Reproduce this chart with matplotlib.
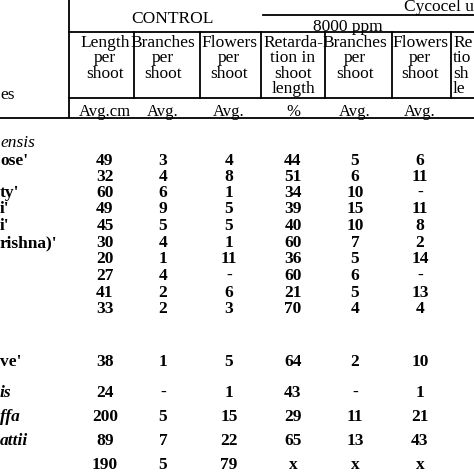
import matplotlib.pyplot as plt

# Table contents (cropped view of a larger table)
row_labels = ["ose'", "", "ty'", "i'", "i'", "rishna)'", "", "", "", "",
              "ve'", "is", "ffa", "attii", ""]
italic_rows = [11, 12, 13]
length_ctrl = ["49", "32", "60", "49", "45", "30", "20", "27", "41", "33", "38", "24", "200", "89", "190"]
branch_ctrl = ["3", "4", "6", "9", "5", "4", "1", "4", "2", "2", "1", "-", "5", "7", "5"]
flower_ctrl = ["4", "8", "1", "5", "5", "1", "11", "-", "6", "3", "5", "1", "15", "22", "79"]
retard_8000 = ["44", "51", "34", "39", "40", "60", "36", "60", "21", "70", "64", "43", "29", "65", "x"]
branch_8000 = ["5", "6", "10", "15", "10", "7", "5", "6", "5", "4", "2", "-", "11", "13", "x"]
flower_8000 = ["6", "11", "-", "11", "8", "2", "14", "-", "13", "4", "10", "1", "21", "43", "x"]

headers = ["Length\nper\nshoot", "Branches\nper\nshoot", "Flowers\nper\nshoot",
           "Retarda-\ntion in\nshoot\nlength", "Branches\nper\nshoot", "Flowers\nper\nshoot", "Re\ntio\nsh\nle"]
units = ["Avg.cm", "Avg.", "Avg.", "%", "Avg.", "Avg.", ""]

row_y = [161, 177, 193, 209, 226, 243, 259, 276, 293, 309, 362, 393, 417, 441, 465]
col_x = [105, 163, 229, 293, 355, 420]
col_lines = [69, 134, 200, 261, 325, 392, 451]

plt.rcParams['font.family'] = ['Liberation Serif', 'DejaVu Serif']
fig = plt.figure(figsize=(4.74, 4.74), dpi=100)
ax = fig.add_axes([0, 0, 1, 1])
ax.set_xlim(0, 474)
ax.set_ylim(474, 0)
ax.axis('off')

fs = 12.5
lw = 1.3
ax.plot([69, 69], [0, 117], color='black', lw=lw)
for x in col_lines[1:]:
    ax.plot([x, x], [32, 98], color='black', lw=lw)
ax.plot([263, 474], [15, 15], color='black', lw=lw)
ax.plot([69, 474], [32, 32], color='black', lw=lw)
ax.plot([69, 474], [98, 98], color='black', lw=lw)
ax.plot([0, 474], [118, 118], color='black', lw=lw)

ax.text(172, 19, "CONTROL", ha='center', va='center', fontsize=fs)
ax.text(404, 7, "Cycocel us", ha='left', va='center', fontsize=fs, clip_on=True)
ax.text(348, 27, "8000 ppm", ha='center', va='center', fontsize=fs)
ax.text(0, 95, "es", ha='left', va='center', fontsize=fs)
ax.text(0, 143, "ensis", ha='left', va='center', fontsize=fs, style='italic')

hx = col_x + [453]
for i, (h, u) in enumerate(zip(headers, units)):
    ha = 'left' if i == 6 else 'center'
    ax.text(hx[i], 35, h, ha=ha, va='top', fontsize=fs, linespacing=0.95, clip_on=True)
    if u:
        ax.text(hx[i], 112, u, ha=ha, va='center', fontsize=fs - 0.5)

for j, lab in enumerate(row_labels):
    if lab:
        ax.text(0, row_y[j], lab, ha='left', va='center', fontsize=fs, fontweight='bold',
                style='italic' if j in italic_rows else 'normal')

cols = [length_ctrl, branch_ctrl, flower_ctrl, retard_8000, branch_8000, flower_8000]
for i, col in enumerate(cols):
    for j, v in enumerate(col):
        ax.text(col_x[i], row_y[j], v, ha='center', va='center', fontsize=fs, fontweight='bold')

fig.savefig("out.png", dpi=100)
